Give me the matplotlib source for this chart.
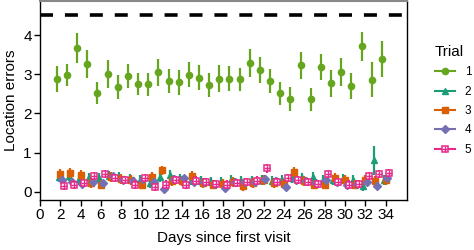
import matplotlib
matplotlib.use("Agg")
import matplotlib.pyplot as plt
from matplotlib.lines import Line2D
from matplotlib.legend_handler import HandlerTuple
import numpy as np

plt.rcParams['font.family'] = ['Liberation Sans', 'DejaVu Sans']

days = list(range(2, 35))
trials = ["1", "2", "3", "4", "5"]
colors = ["#66A61E", "#1B9E77", "#D95F02", "#7570B3", "#E7298A"]

trial1 = [2.87, 2.98, 3.67, 3.26, 2.51, 3.01, 2.67, 2.95, 2.74, 2.74, 3.05,
          2.83, 2.79, 2.99, 2.91, 2.72, 2.89, 2.89, 2.87, 3.29, 3.10, 2.83,
          2.51, 2.37, 3.23, 2.36, 3.18, 2.77, 3.06, 2.69, 3.72, 2.86, 3.39]
trial1_err = [0.33, 0.28, 0.38, 0.35, 0.28, 0.35, 0.30, 0.30, 0.28, 0.30, 0.35,
              0.30, 0.32, 0.32, 0.32, 0.30, 0.35, 0.33, 0.30, 0.36, 0.33, 0.30,
              0.30, 0.30, 0.35, 0.30, 0.33, 0.35, 0.36, 0.33, 0.37, 0.45, 0.45]
trial2 = [0.38, 0.40, 0.33, 0.37, 0.35, 0.40, 0.38, 0.33, 0.30, 0.22, 0.38,
          0.43, 0.33, 0.30, 0.28, 0.26, 0.25, 0.30, 0.27, 0.28, 0.30, 0.28,
          0.30, 0.35, 0.35, 0.38, 0.30, 0.30, 0.33, 0.30, 0.15, 0.80, 0.30]
trial3 = [0.45, 0.48, 0.43, 0.22, 0.18, 0.38, 0.33, 0.30, 0.18, 0.38, 0.55,
          0.28, 0.28, 0.40, 0.22, 0.18, 0.20, 0.25, 0.15, 0.22, 0.30, 0.22,
          0.20, 0.50, 0.28, 0.18, 0.18, 0.35, 0.30, 0.18, 0.30, 0.28, 0.30]
trial4 = [0.30, 0.25, 0.20, 0.25, 0.22, 0.40, 0.30, 0.28, 0.32, 0.25, 0.08,
          0.33, 0.35, 0.25, 0.26, 0.20, 0.10, 0.25, 0.25, 0.25, 0.33, 0.28,
          0.12, 0.30, 0.28, 0.22, 0.30, 0.25, 0.18, 0.20, 0.25, 0.15, 0.35]
trial5 = [0.15, 0.18, 0.22, 0.40, 0.45, 0.35, 0.30, 0.18, 0.35, 0.12, 0.18,
          0.30, 0.18, 0.28, 0.25, 0.20, 0.18, 0.22, 0.25, 0.28, 0.60, 0.25,
          0.35, 0.30, 0.25, 0.20, 0.45, 0.25, 0.18, 0.20, 0.40, 0.45, 0.48]
trial2_err = [0.12] * 31 + [0.38, 0.12]
trial3_err = [0.12] * 33
trial4_err = [0.09] * 33
trial5_err = [0.11] * 33

series = [trial1, trial2, trial3, trial4, trial5]
errs = [trial1_err, trial2_err, trial3_err, trial4_err, trial5_err]
offsets = [-0.36, -0.18, 0.0, 0.18, 0.36]
markers = ["o", "^", "s", "D", "s"]
msizes = [4.5, 5.0, 4.5, 4.2, 5.0]
chance = 4.5

fig = plt.figure(figsize=(4.74, 2.5), dpi=100)
ax = fig.add_axes([40/474, 1 - 200/250, (407-40)/474, 199/250])

ax.axhline(chance, color="black", lw=2.6, ls=(0, (3.6, 3.3)), zorder=1)

handles = []
for i, (vals, er) in enumerate(zip(series, errs)):
    x = np.array(days) + offsets[i]
    c = colors[i]
    ax.errorbar(x, vals, yerr=er, fmt="none", ecolor=c, elinewidth=1.6, capsize=0, zorder=2 + i)
    if i == 4:
        ax.plot(x, vals, ls="none", marker="s", ms=msizes[i], mfc="white", mec=c, mew=1.1, zorder=2 + i)
        ax.plot(x, vals, ls="none", marker="+", ms=msizes[i], mec=c, mew=1.0, zorder=2 + i)
        h1 = Line2D([], [], color=c, lw=1.5, marker="s", ms=msizes[i], mfc="white", mec=c, mew=1.1)
        h2 = Line2D([], [], color=c, lw=0, marker="+", ms=msizes[i], mec=c, mew=1.0)
        handles.append((h1, h2))
    else:
        ax.plot(x, vals, ls="none", marker=markers[i], ms=msizes[i], color=c, zorder=2 + i)
        handles.append(Line2D([], [], color=c, lw=1.5, marker=markers[i], ms=msizes[i]))

ax.set_xlim(0, 36.1)
ax.set_ylim(-0.21, 4.87)
ax.set_xticks(range(0, 35, 2))
ax.set_yticks([0, 1, 2, 3, 4])
ax.tick_params(axis="both", labelsize=11, length=4, width=1, color="black", pad=2)
for s in ["left", "bottom", "right"]:
    ax.spines[s].set_color("black")
    ax.spines[s].set_linewidth(1.0)
ax.spines["top"].set_color("#888888")
ax.spines["top"].set_linewidth(1.5)

ax.set_xlabel("Days since first visit", fontsize=11, labelpad=6)
ax.set_ylabel("Location errors", fontsize=11, labelpad=4)

leg = fig.legend(handles, trials, loc="upper left", bbox_to_anchor=(428/474, 1 - 38/250),
                 frameon=False, title="Trial", fontsize=8.5, title_fontsize=11,
                 handlelength=1.7, labelspacing=0.62, handletextpad=0.8,
                 borderaxespad=0.3, borderpad=0.3,
                 handler_map={tuple: HandlerTuple(ndivide=1, pad=0)})
leg._legend_box.align = "left"

fig.savefig("out.png", dpi=100)
